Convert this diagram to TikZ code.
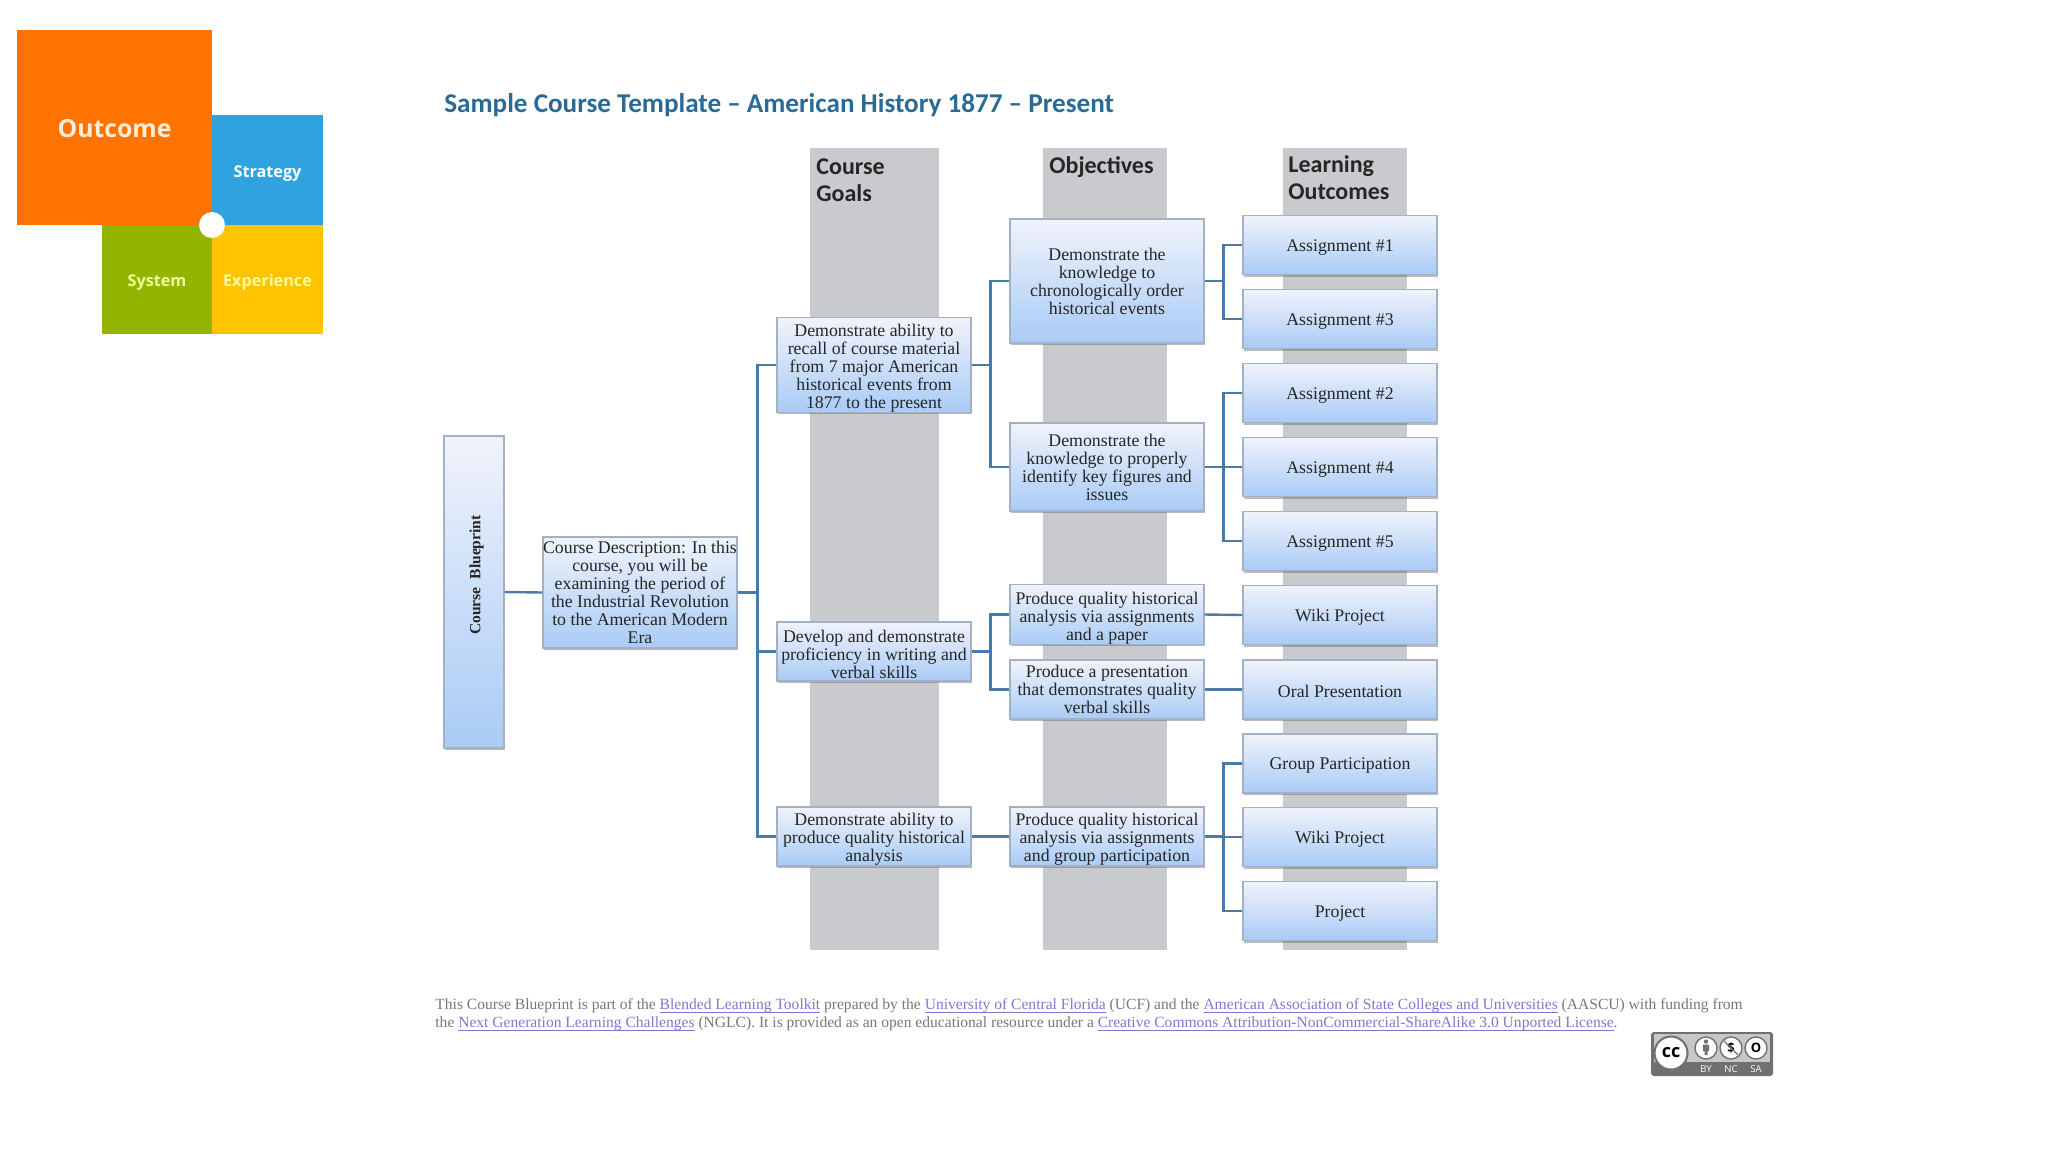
\documentclass[tikz,border=0pt]{standalone}
\usepackage{fontspec}
\setmainfont{Liberation Serif}
\newfontfamily\calibrifont{Carlito}
\newfontfamily\logofont{Open Sans}
\usetikzlibrary{positioning,shadows}

\definecolor{orangeTile}{HTML}{FF7300}
\definecolor{blueTile}{HTML}{2FA3E0}
\definecolor{greenTile}{HTML}{93B500}
\definecolor{yellowTile}{HTML}{FFC400}
\definecolor{titleBlue}{HTML}{2A6A94}
\definecolor{columnGrey}{HTML}{C8CACD}
\definecolor{boxTop}{HTML}{F0F3FB}
\definecolor{boxBottom}{HTML}{A9CBF6}
\definecolor{boxEdge}{HTML}{A4B0C4}
\definecolor{linkBlue}{HTML}{4A7BA8}
\definecolor{footGrey}{HTML}{77777B}
\definecolor{footLink}{HTML}{7F78D2}
\definecolor{badgeDark}{HTML}{6F7072}
\definecolor{badgeLight}{HTML}{C6C7C8}

\newcommand{\footlink}[1]{\textcolor{footLink}{\underline{\smash{#1}}}}
\newcommand{\lowtext}[1]{\rule{0pt}{#1pt}}

\begin{document}
\begin{tikzpicture}[x=0.5pt, y=-0.5pt,
% Logo style
		tile/.style={rectangle
							    , inner sep=0pt
							    , text=white
							    , text height=9.2pt
							    , text depth=2pt
							    , font=\logofont\bfseries\fontsize{8.1}{10}\selectfont},
% Column style
		greycol/.style={rectangle
							    , fill=columnGrey
							    , inner sep=0pt
							    , minimum height=401pt},
		header/.style={anchor=west
							    , align=left
							    , inner sep=0pt
							    , text=black!85
							    , font=\calibrifont\bfseries\fontsize{12}{13.5}\selectfont},
% Box style
		bluebox/.style={rectangle
							    , top color=boxTop
							    , bottom color=boxBottom
							    , draw=boxEdge, line width=0.6pt
							    , drop shadow={shadow xshift=0.3pt, shadow yshift=-1pt, fill=black!60, opacity=.45}
							    , inner sep=0pt
							    , minimum width=97pt
							    , align=center
							    , text=black!85
							    , font=\fontsize{8.9}{9}\selectfont},
		smallbox/.style={bluebox
							    , minimum height=#1},
		outbox/.style={bluebox
							    , minimum height=29.5pt},
% Connector style
		link/.style={draw=linkBlue, line width=1.2pt},
		elbow/.style={to path={-- ++(#1,0) |- (\tikztotarget)}},
% Badge style
		ccring/.style={circle
							    , fill=white
							    , draw=badgeDark, line width=0.7pt
							    , inner sep=0pt
							    , minimum size=11pt
							    , font=\logofont\bfseries\fontsize{6.5}{7}\selectfont},
		cctag/.style={inner sep=0pt
							    , text=white
							    , font=\logofont\fontsize{4.8}{5}\selectfont}
	]
	\useasboundingbox (0,0) rectangle (2048,1152);
%% Logo
	\node [tile, fill=blueTile, minimum width=55.5pt, minimum height=55pt, text=white] (strategy) at (267.5,170) {Strategy};
	\node [tile, fill=greenTile, minimum width=55pt, minimum height=54.5pt, text=green!15!yellow!40!white] (system) at (157,279.5) {System};
	\node [tile, fill=yellowTile, minimum width=55.5pt, minimum height=54.5pt, text=yellow!40!white] (experience) at (267.5,279.5) {Experience};
	\node [tile, fill=orangeTile, minimum size=97.5pt, text=orange!15!white, text height=10.2pt, text depth=0pt, font=\logofont\bfseries\fontsize{12.4}{15}\selectfont] (outcome) at (114.5,127.5) {Outcome};
	\node [circle, fill=white, inner sep=0pt, minimum size=13pt] (dot) at (212,225) {};
%% Title
	\node [anchor=west, inner sep=0pt, text=titleBlue, font=\calibrifont\bfseries\fontsize{13.57}{15}\selectfont] (title) at (444,105) {Sample Course Template – American History 1877 – Present};
%% Columns
	\node [greycol, minimum width=64.5pt] (goalcol) at (874.5,549) {};
	\node [greycol, minimum width=62pt] (objcol) at (1105,549) {};
	\node [greycol, minimum width=62pt] (outcol) at (1345,549) {};
	\node [header] (goalhead) at (816,180) {Course\\Goals};
	\node [header] (objhead) at (1049,167) {Objectives};
	\node [header] (outhead) at (1288,178) {Learning\\Outcomes};
%% Boxes
	\node [bluebox, minimum width=30pt, minimum height=156pt] (blueprint) at (474,592) {};
	\node [rotate=90, inner sep=0pt, text=black!85, font=\bfseries\fontsize{7.8}{9}\selectfont] (blueprintlabel) at (476.5,575) {Course\ \ Blueprint};
	\node [smallbox=55.5pt] (desc) at (640,592.5) {Course Description: In this\\course, you will be\\examining the period of\\the Industrial Revolution\\to the American Modern\\Era};

	\node [smallbox=47pt] (goalA) at (874,365) {\lowtext{9.5}Demonstrate ability to\\recall of course material\\from 7 major American\\historical events from\\1877 to the present};
	\node [smallbox=29.5pt] (goalB) at (874,651.5) {\lowtext{8.8}Develop and demonstrate\\proficiency in writing and\\verbal skills};
	\node [smallbox=29.5pt] (goalC) at (874,836.5) {\lowtext{9.3}Demonstrate ability to\\produce quality historical\\analysis};

	\node [smallbox=62pt] (objA) at (1107,281) {Demonstrate the\\knowledge to\\chronologically order\\historical events};
	\node [smallbox=44pt] (objB) at (1107,467) {Demonstrate the\\knowledge to properly\\identify key figures and\\issues};
	\node [smallbox=29.5pt] (objC) at (1107,614.5) {\lowtext{10}Produce quality historical\\analysis via assignments\\and a paper};
	\node [smallbox=29.5pt] (objD) at (1107,689.5) {Produce a presentation\\that demonstrates quality\\verbal skills};
	\node [smallbox=29.5pt] (objE) at (1107,836.5) {\lowtext{9.3}Produce quality historical\\analysis via assignments\\and group participation};

	\node [outbox] (assignA) at (1340,245) {\lowtext{8.3}Assignment \#1};
	\node [outbox] (assignC) at (1340,319) {\lowtext{8.3}Assignment \#3};
	\node [outbox] (assignB) at (1340,393) {\lowtext{8.3}Assignment \#2};
	\node [outbox] (assignD) at (1340,467) {\lowtext{8.3}Assignment \#4};
	\node [outbox] (assignE) at (1340,541) {\lowtext{8.3}Assignment \#5};
	\node [outbox] (wikiA) at (1340,615) {\lowtext{8.3}Wiki Project};
	\node [outbox] (oral) at (1340,689.5) {\lowtext{8.3}Oral Presentation};
	\node [outbox] (group) at (1340,763.5) {\lowtext{8.3}Group Participation};
	\node [outbox] (wikiB) at (1340,837) {\lowtext{8.3}Wiki Project};
	\node [outbox] (project) at (1340,911) {\lowtext{8.3}Project};
%% Connectors
	\draw [link] (blueprint.east) -- (desc.west);
	\draw [link] (desc.east) edge [elbow=20] (goalA.west) edge [elbow=20] (goalB.west) edge [elbow=20] (goalC.west);
	\draw [link] (goalA.east) edge [elbow=19] (objA.west) edge [elbow=19] (objB.west);
	\draw [link] (goalB.east) edge [elbow=19] (objC.west) edge [elbow=19] (objD.west);
	\draw [link] (goalC.east) -- (objE.west);
	\draw [link] (objA.east) edge [elbow=19] (assignA.west) edge [elbow=19] (assignC.west);
	\draw [link] (objB.east) edge [elbow=19] (assignB.west) edge [elbow=19] (assignD.west) edge [elbow=19] (assignE.west);
	\draw [link] (objC.east) -- (wikiA.west);
	\draw [link] (objD.east) -- (oral.west);
	\draw [link] (objE.east) edge [elbow=19] (group.west) edge [elbow=19] (wikiB.west) edge [elbow=19] (project.west);
%% Footer
	\node [anchor=north west, align=left, inner sep=0pt, text=footGrey, font=\fontsize{7.78}{9.25}\selectfont] (footer) at (435,998) {This Course Blueprint is part of the \footlink{Blended Learning Toolkit} prepared by the \footlink{University of Central Florida} (UCF) and the \footlink{American Association of State Colleges and Universities} (AASCU) with funding from\\the \footlink{Next Generation Learning Challenges} (NGLC). It is provided as an open educational resource under a \footlink{Creative Commons Attribution-NonCommercial-ShareAlike 3.0 Unported License}.};
%% Badge
	\node [rectangle, rounded corners=1.5pt, fill=badgeDark, inner sep=0pt, minimum width=61pt, minimum height=22pt] (badge) at (1712,1054) {};
	\node [rectangle, fill=badgeLight, inner sep=0pt, minimum width=58pt, minimum height=14pt] (badgetop) at (1712,1047.5) {};
	\node [circle, fill=white, draw=badgeDark, line width=1pt, inner sep=0pt, minimum size=16.5pt, font=\logofont\bfseries\fontsize{9}{9}\selectfont] (ccmark) at (1671,1053) {cc};
	\node [ccring] (byring) at (1706,1048) {};
	\node [ccring] (ncring) at (1731,1048) {\$};
	\node [ccring] (saring) at (1756,1048) {O};
	\fill [badgeDark] (1706,1041.5) circle (1.1pt);
	\fill [badgeDark] (1703,1044.5) rectangle (1709,1051) (1704.5,1051) rectangle (1707.5,1055);
	\draw [badgeDark, line width=0.6pt] (1724,1041) -- (1738,1055);
	\node [cctag] (bytag) at (1706,1069) {BY};
	\node [cctag] (nctag) at (1731,1069) {NC};
	\node [cctag] (satag) at (1756,1069) {SA};
\end{tikzpicture}
\end{document}
